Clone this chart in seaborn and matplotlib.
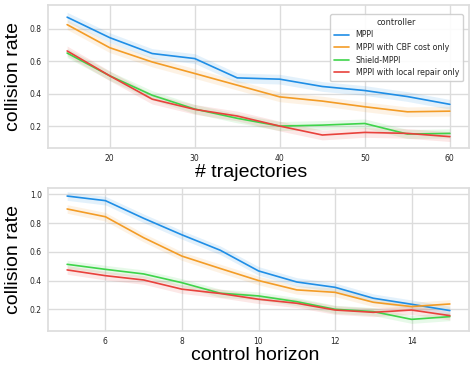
import matplotlib
matplotlib.use('Agg')
import matplotlib.pyplot as plt
import seaborn as sns
import pandas as pd

# controllers and colours
controllers = ["MPPI", "MPPI with CBF cost only", "Shield-MPPI", "MPPI with local repair only"]
colors = ["#1f8ee6", "#f39c26", "#3ed44a", "#e8423c"]

# top panel: collision rate vs number of trajectories
n_traj = [15, 20, 25, 30, 35, 40, 45, 50, 55, 60]
traj_mppi = [0.871, 0.745, 0.647, 0.616, 0.497, 0.489, 0.444, 0.419, 0.382, 0.334]
traj_cbf = [0.825, 0.683, 0.595, 0.524, 0.452, 0.380, 0.354, 0.319, 0.288, 0.292]
traj_shield = [0.650, 0.510, 0.390, 0.305, 0.248, 0.200, 0.206, 0.216, 0.151, 0.155]
traj_repair = [0.663, 0.510, 0.366, 0.303, 0.262, 0.200, 0.145, 0.161, 0.155, 0.135]

# bottom panel: collision rate vs control horizon
horizon = [5, 6, 7, 8, 9, 10, 11, 12, 13, 14, 15]
hor_mppi = [0.988, 0.956, 0.833, 0.718, 0.611, 0.467, 0.390, 0.353, 0.277, 0.235, 0.191]
hor_cbf = [0.898, 0.844, 0.698, 0.570, 0.484, 0.400, 0.335, 0.318, 0.249, 0.219, 0.237]
hor_shield = [0.513, 0.478, 0.446, 0.385, 0.312, 0.293, 0.253, 0.200, 0.184, 0.130, 0.149]
hor_repair = [0.474, 0.434, 0.404, 0.340, 0.310, 0.270, 0.242, 0.195, 0.179, 0.195, 0.156]

# half-width of the shaded confidence band per controller
band = [0.03, 0.03, 0.028, 0.03]

sns.set_theme(style="whitegrid", rc={"grid.color": "#dcdcdc"})
plt.rcParams['font.family'] = ['DejaVu Sans']

def long_form(x, series, xname):
    rows = []
    for name, vals, hw in zip(controllers, series, band):
        for xv, v in zip(x, vals):
            rows.append({xname: xv, "collision rate": v, "controller": name,
                         "lo": v - hw, "hi": v + hw})
    return pd.DataFrame(rows)

df_top = long_form(n_traj, [traj_mppi, traj_cbf, traj_shield, traj_repair], "# trajectories")
df_bot = long_form(horizon, [hor_mppi, hor_cbf, hor_shield, hor_repair], "control horizon")

fig = plt.figure(figsize=(4.74, 3.66), dpi=100)
ax1 = fig.add_axes([48 / 474, 1 - 148 / 366, 421 / 474, 143 / 366])
ax2 = fig.add_axes([48 / 474, 1 - 331 / 366, 421 / 474, 143 / 366])

label_font = dict(family="Liberation Sans", fontsize=14, color="black")

for ax, df, xname in [(ax1, df_top, "# trajectories"), (ax2, df_bot, "control horizon")]:
    sns.lineplot(data=df, x=xname, y="collision rate", hue="controller",
                 hue_order=controllers, palette=colors, errorbar=None,
                 linewidth=1.2, ax=ax)
    for name, c in zip(controllers, colors):
        sub = df[df["controller"] == name]
        ax.fill_between(sub[xname], sub["lo"], sub["hi"], color=c, alpha=0.12, linewidth=0)
    ax.set_xlabel(xname, **label_font)
    ax.set_ylabel("collision rate", **label_font)
    ax.yaxis.set_label_coords(-0.062, 0.5)
    ax.tick_params(labelsize=5.5, length=0, pad=4.5)
    for s in ax.spines.values():
        s.set_color("#dddddd")

ax1.xaxis.set_label_coords(0.482, -0.11)
ax2.xaxis.set_label_coords(0.492, -0.115)

ax1.set_ylim(0.065, 0.946)
ax1.set_yticks([0.2, 0.4, 0.6, 0.8])
ax1.set_xticks([20, 30, 40, 50, 60])
ax2.set_ylim(0.049, 1.044)
ax2.set_yticks([0.2, 0.4, 0.6, 0.8, 1.0])
ax2.set_xticks([6, 8, 10, 12, 14])

ax1.legend(title="controller", loc="upper right", fontsize=5.7, title_fontsize=5.9,
           handlelength=1.9, borderpad=0.5, labelspacing=0.45, framealpha=0.9,
           bbox_to_anchor=(0.995, 0.965))
ax2.get_legend().remove()

fig.savefig("out.png", dpi=100)
plt.close(fig)
